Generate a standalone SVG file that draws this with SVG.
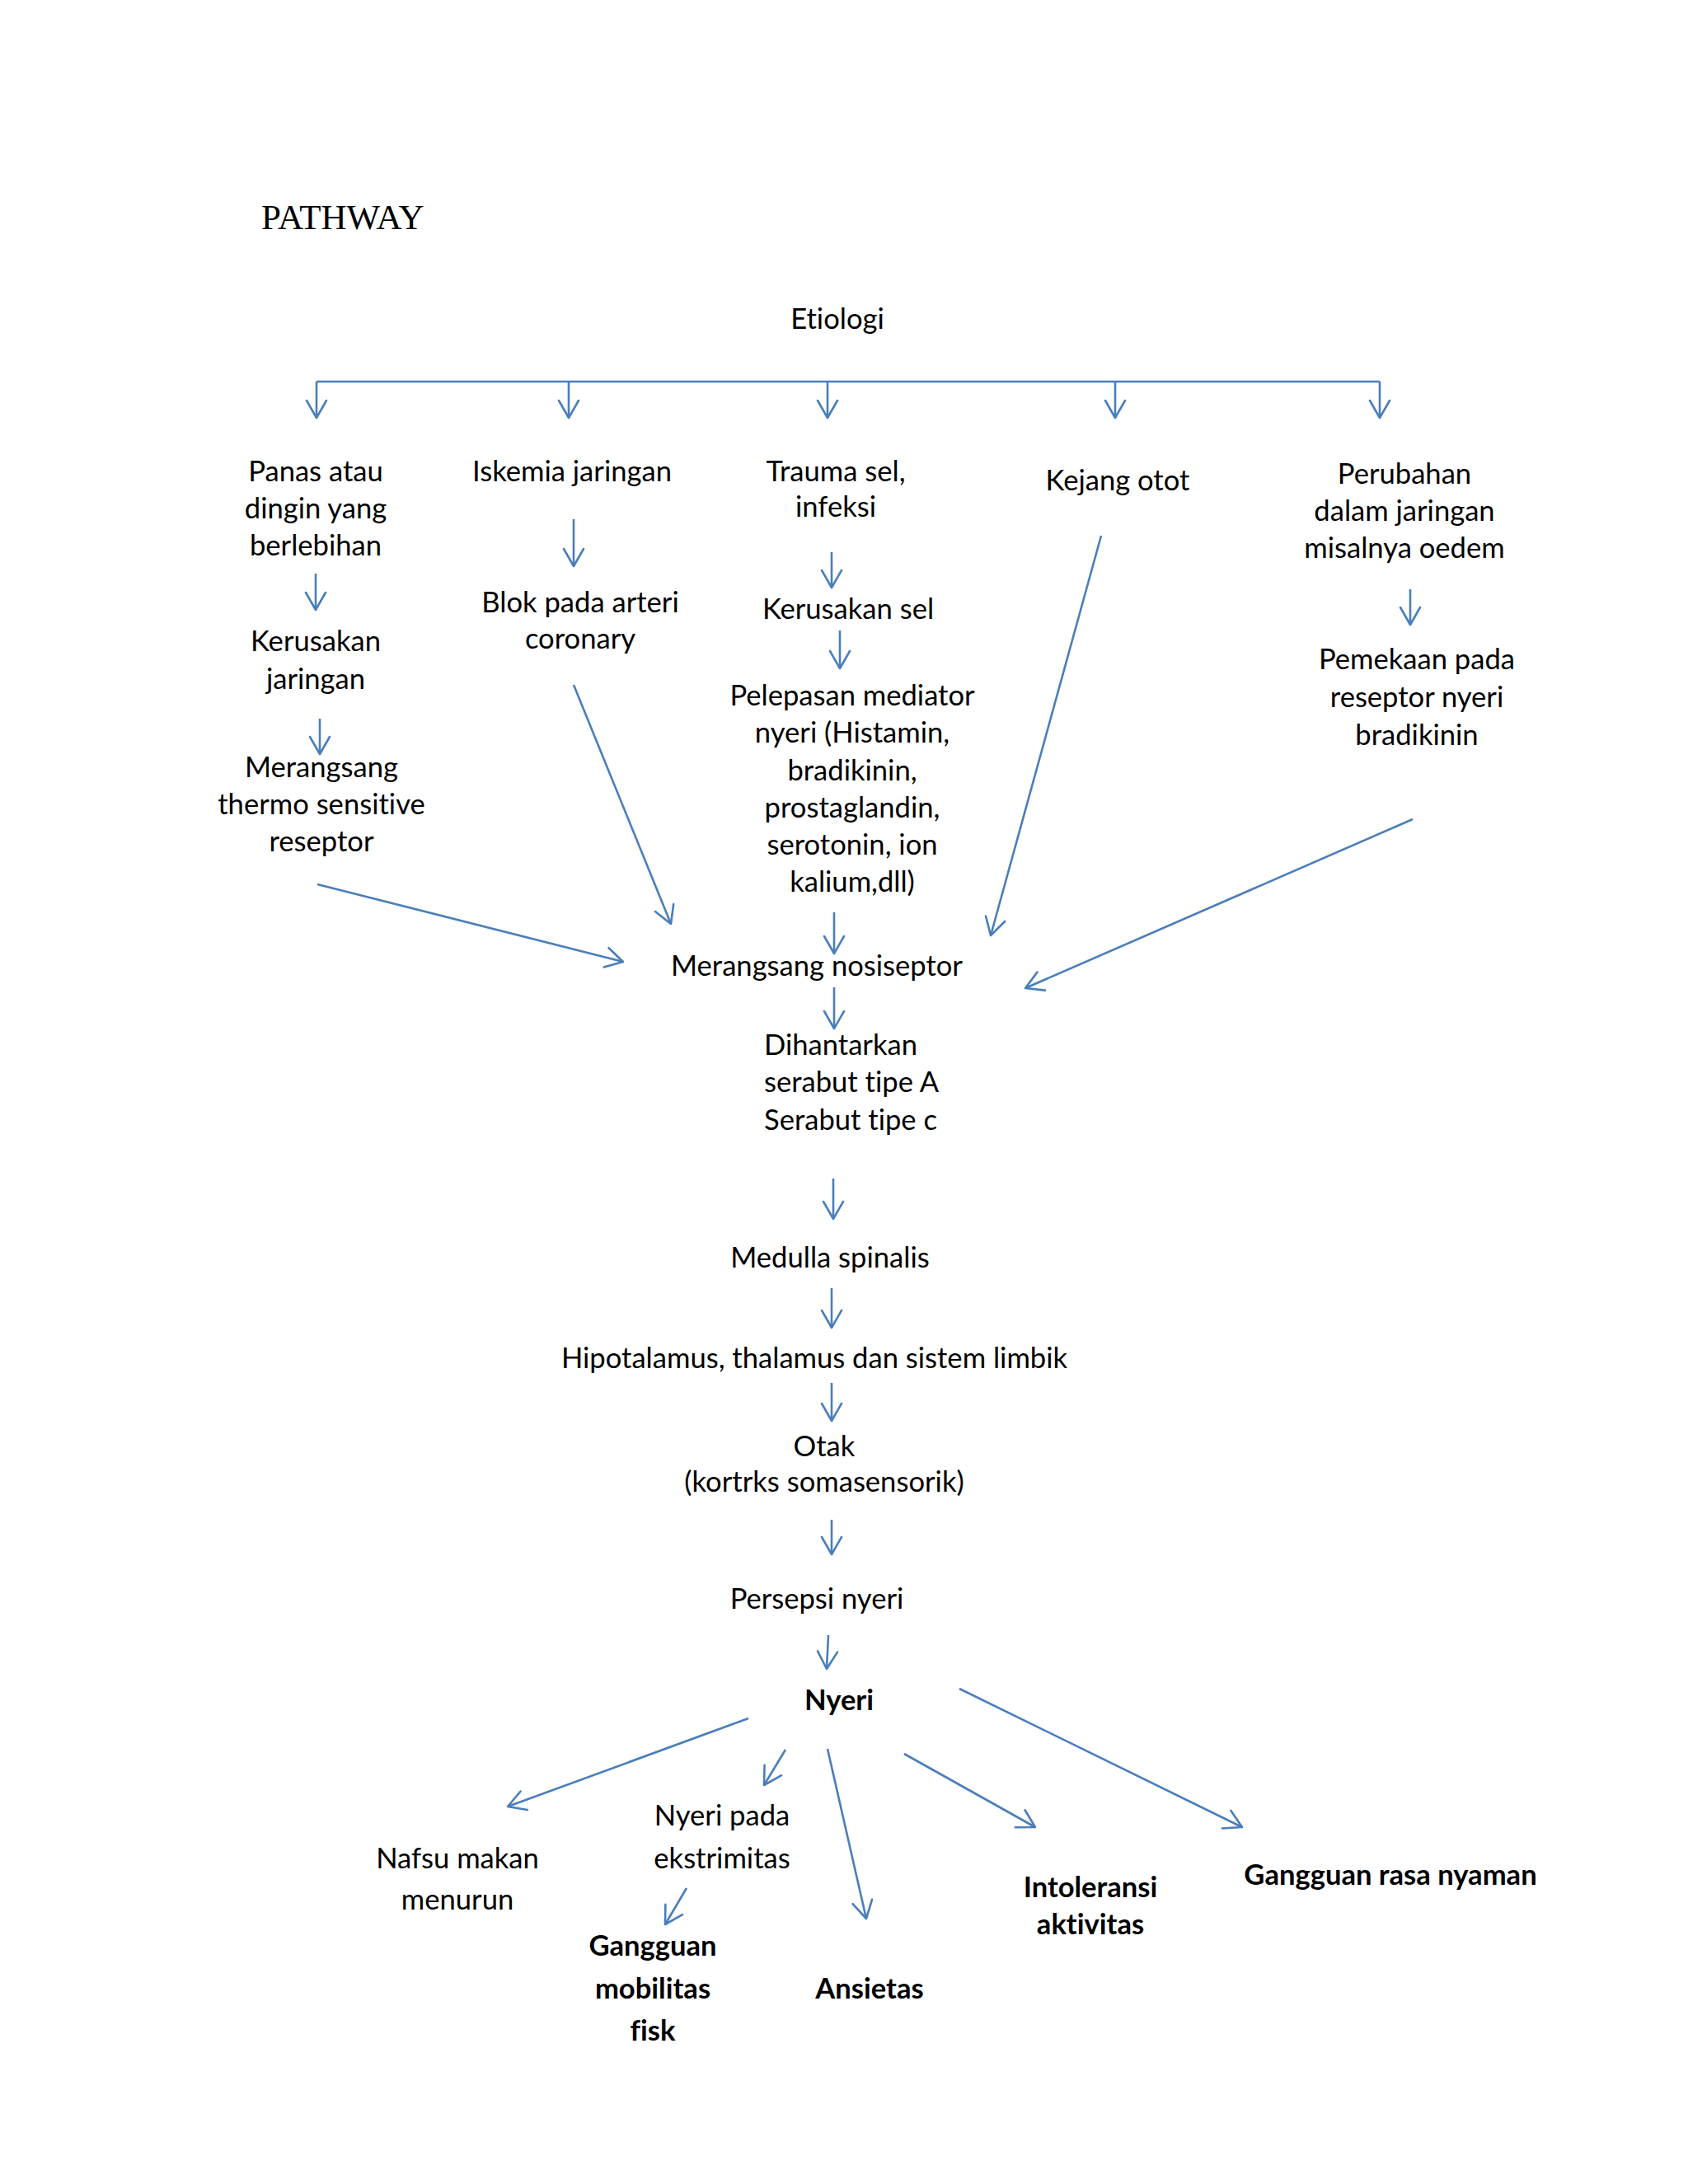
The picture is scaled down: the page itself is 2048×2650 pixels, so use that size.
<svg xmlns="http://www.w3.org/2000/svg" width="2048" height="2650" viewBox="0 0 2048 2650">
<defs>
<marker id="arr" markerUnits="userSpaceOnUse" markerWidth="40" markerHeight="40" viewBox="-30 -20 40 40" refX="0" refY="0" orient="auto">
<path d="M-21,-12 L0,0 L-21,12" fill="none" stroke="#4a7ebb" stroke-width="2.6" stroke-linecap="round" stroke-linejoin="round"/>
</marker>
<style>
text{font-family:Lato,"Liberation Sans",sans-serif;font-size:34.6px;fill:#000;font-variant-ligatures:none}
.c{text-anchor:middle}
.b{font-weight:bold}
.title{font-family:"Liberation Serif","Times New Roman",serif;font-size:43px}
.ln{stroke:#4a7ebb;stroke-width:2.6;fill:none}
.a{marker-end:url(#arr)}
</style>
</defs>
<rect width="2048" height="2650" fill="#fff"/>
<text class="title" x="317" y="278">PATHWAY</text>
<g id="connectors">
<path class="ln" d="M384,463 H1674"/>
<line class="ln a" x1="384" y1="463" x2="384" y2="507"/>
<line class="ln a" x1="690" y1="463" x2="690" y2="507"/>
<line class="ln a" x1="1004" y1="463" x2="1004" y2="507"/>
<line class="ln a" x1="1353" y1="463" x2="1353" y2="507"/>
<line class="ln a" x1="1674" y1="463" x2="1674" y2="507"/>
<line class="ln a" x1="383" y1="696" x2="383" y2="740"/>
<line class="ln a" x1="388" y1="872" x2="388" y2="915"/>
<line class="ln a" x1="696" y1="630" x2="696" y2="687"/>
<line class="ln a" x1="1009" y1="670" x2="1009" y2="713"/>
<line class="ln a" x1="1019" y1="765" x2="1019" y2="811"/>
<line class="ln a" x1="1711" y1="715" x2="1711" y2="758"/>
<line class="ln a" x1="1012" y1="1107" x2="1012" y2="1157"/>
<line class="ln a" x1="1012" y1="1198" x2="1012" y2="1248"/>
<line class="ln a" x1="1011" y1="1430" x2="1011" y2="1479"/>
<line class="ln a" x1="1009" y1="1563" x2="1009" y2="1611"/>
<line class="ln a" x1="1009" y1="1678" x2="1009" y2="1724"/>
<line class="ln a" x1="1009" y1="1844" x2="1009" y2="1886"/>
<line class="ln a" x1="1005" y1="1984" x2="1003" y2="2025"/>
<line class="ln a" x1="385" y1="1073" x2="756" y2="1167"/>
<line class="ln a" x1="696" y1="831" x2="814" y2="1121"/>
<line class="ln a" x1="1336" y1="650" x2="1202" y2="1135"/>
<line class="ln a" x1="1714" y1="994" x2="1244" y2="1199"/>
<line class="ln a" x1="908" y1="2085" x2="616" y2="2192"/>
<line class="ln a" x1="953" y1="2123" x2="927" y2="2166"/>
<line class="ln a" x1="833" y1="2291" x2="807" y2="2335"/>
<line class="ln a" x1="1004" y1="2122" x2="1051" y2="2328"/>
<line class="ln a" x1="1097" y1="2128" x2="1256" y2="2217"/>
<line class="ln a" x1="1164" y1="2049" x2="1507" y2="2217"/>
</g>
<g id="etiologi"><text class="c" x="1016" y="399">Etiologi</text></g>
<g id="panas"><text class="c" x="383" y="584">Panas atau</text><text class="c" x="383" y="629">dingin yang</text><text class="c" x="383" y="674">berlebihan</text></g>
<g id="kerusakan-jaringan"><text class="c" x="383" y="790">Kerusakan</text><text class="c" x="383" y="836">jaringan</text></g>
<g id="merangsang-thermo"><text class="c" x="390" y="943">Merangsang</text><text class="c" x="390" y="988">thermo sensitive</text><text class="c" x="390" y="1033">reseptor</text></g>
<g id="iskemia"><text class="c" x="694" y="584">Iskemia jaringan</text></g>
<g id="blok"><text class="c" x="704" y="743">Blok pada arteri</text><text class="c" x="704" y="787">coronary</text></g>
<g id="trauma"><text class="c" x="1014" y="584">Trauma sel,</text><text class="c" x="1014" y="627">infeksi</text></g>
<g id="kerusakan-sel"><text class="c" x="1029" y="751">Kerusakan sel</text></g>
<g id="pelepasan"><text class="c" x="1034" y="856">Pelepasan mediator</text><text class="c" x="1034" y="901">nyeri (Histamin,</text><text class="c" x="1034" y="947">bradikinin,</text><text class="c" x="1034" y="992">prostaglandin,</text><text class="c" x="1034" y="1037">serotonin, ion</text><text class="c" x="1034" y="1082">kalium,dll)</text></g>
<g id="kejang"><text class="c" x="1356" y="595">Kejang otot</text></g>
<g id="perubahan"><text class="c" x="1704" y="587">Perubahan</text><text class="c" x="1704" y="632">dalam jaringan</text><text class="c" x="1704" y="677">misalnya oedem</text></g>
<g id="pemekaan"><text class="c" x="1719" y="812">Pemekaan pada</text><text class="c" x="1719" y="858">reseptor nyeri</text><text class="c" x="1719" y="904">bradikinin</text></g>
<g id="nosiseptor"><text class="c" x="991" y="1184">Merangsang nosiseptor</text></g>
<g id="dihantarkan"><text x="927" y="1280">Dihantarkan</text><text x="927" y="1325">serabut tipe A</text><text x="927" y="1371">Serabut tipe c</text></g>
<g id="medulla"><text class="c" x="1007" y="1538">Medulla spinalis</text></g>
<g id="hipotalamus"><text class="c" x="988" y="1660">Hipotalamus, thalamus dan sistem limbik</text></g>
<g id="otak"><text class="c" x="1000" y="1767">Otak</text><text class="c" x="1000" y="1810">(kortrks somasensorik)</text></g>
<g id="persepsi"><text class="c" x="991" y="1952">Persepsi nyeri</text></g>
<g id="nyeri"><text class="c b" x="1018" y="2075">Nyeri</text></g>
<g id="nafsu"><text class="c" x="555" y="2267">Nafsu makan</text><text class="c" x="555" y="2317">menurun</text></g>
<g id="nyeri-pada"><text class="c" x="876" y="2215">Nyeri pada</text><text class="c" x="876" y="2267">ekstrimitas</text></g>
<g id="gangguan-mobilitas"><text class="c b" x="792" y="2373">Gangguan</text><text class="c b" x="792" y="2425">mobilitas</text><text class="c b" x="792" y="2476">fisk</text></g>
<g id="ansietas"><text class="c b" x="1055" y="2425">Ansietas</text></g>
<g id="intoleransi"><text class="c b" x="1323" y="2302">Intoleransi</text><text class="c b" x="1323" y="2347">aktivitas</text></g>
<g id="gangguan-rasa"><text class="c b" x="1687" y="2287">Gangguan rasa nyaman</text></g>
</svg>
